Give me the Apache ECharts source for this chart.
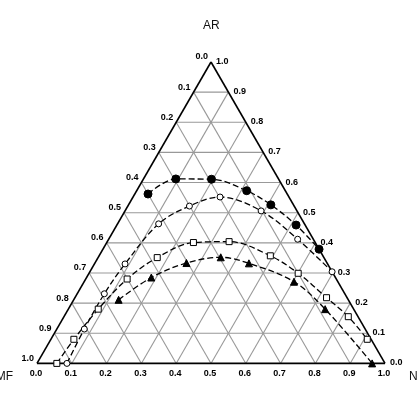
<!DOCTYPE html>
<html><head><meta charset="utf-8">
<script src="https://cdn.jsdelivr.net/npm/echarts@6/dist/echarts.min.js"></script>
<style>html,body{margin:0;padding:0;background:#fff}#c{width:418px;height:418px}</style>
</head><body><div id="c"></div>
<script>
// Ternary levels (fractions)
const levels = [0, 0.1, 0.2, 0.3, 0.4, 0.5, 0.6, 0.7, 0.8, 0.9, 1.0];
// Tick labels
const bottomTickLabels = ['0.0','0.1','0.2','0.3','0.4','0.5','0.6','0.7','0.8','0.9','1.0']; // N
const rightTickLabels  = ['0.0','0.1','0.2','0.3','0.4','0.5','0.6','0.7','0.8','0.9','1.0']; // AR
const leftTickLabels   = ['1.0','0.9','0.8','0.7','0.6','0.5','0.4','0.3','0.2','0.1','0.0']; // at AR level
const vertexNames = ['AR', 'MF', 'N'];

// Series data: AR fraction and N fraction (MF = 1 - AR - N)
const filledCircleAR = [0.562, 0.612, 0.611, 0.573, 0.526, 0.459, 0.379];
const filledCircleN  = [0.038, 0.093, 0.196, 0.316, 0.409, 0.515, 0.621];

const openCircleAR = [0.000, 0.114, 0.231, 0.330, 0.463, 0.522, 0.552, 0.506, 0.412, 0.304];
const openCircleN  = [0.086, 0.079, 0.078, 0.088, 0.118, 0.177, 0.250, 0.391, 0.543, 0.696];

const squareAR = [0.000, 0.080, 0.180, 0.280, 0.351, 0.401, 0.404, 0.357, 0.299, 0.218, 0.155, 0.080];
const squareN  = [0.057, 0.066, 0.086, 0.119, 0.170, 0.249, 0.350, 0.492, 0.601, 0.723, 0.817, 0.909];

const triangleAR = [0.211, 0.285, 0.333, 0.352, 0.332, 0.271, 0.180, 0.000];
const triangleN  = [0.129, 0.186, 0.263, 0.352, 0.443, 0.603, 0.738, 0.963];

const H = Math.sqrt(3) / 2;
function toXY(a, n) { return [n + a / 2, a * H]; }
function seg(a1, n1, a2, n2) { const p = toXY(a1, n1), q = toXY(a2, n2); return [p[0], p[1], q[0], q[1]]; }

// grid lines
const gridSegs = [];
levels.slice(1, -1).forEach(t => {
  gridSegs.push(seg(t, 0, t, 1 - t));       // constant AR
  gridSegs.push(seg(0, t, 1 - t, t));       // constant N
  gridSegs.push(seg(0, 1 - t, 1 - t, 0));   // constant MF
});
const outlineSegs = [seg(0, 0, 0, 1), seg(0, 1, 1, 0), seg(1, 0, 0, 0)];

// labels: [x, y, kind, index]
const labelData = [];
levels.forEach((t, i) => {
  const l = toXY(t, 0); labelData.push([l[0], l[1], 0, i]);
  const r = toXY(t, 1 - t); labelData.push([r[0], r[1], 1, i]);
  const b = toXY(0, t); labelData.push([b[0], b[1], 2, i]);
});

function segRender(color, width) {
  return function (params, api) {
    const p = api.coord([api.value(0), api.value(1)]);
    const q = api.coord([api.value(2), api.value(3)]);
    return { type: 'line', shape: { x1: p[0], y1: p[1], x2: q[0], y2: q[1] },
      style: { stroke: color, lineWidth: width } };
  };
}

const FONT = 'bold 9px "Liberation Sans", Arial, sans-serif';
function labelRender(params, api) {
  const p = api.coord([api.value(0), api.value(1)]);
  const kind = api.value(2), i = api.value(3);
  let text, x, y, align, va = 'middle';
  if (kind === 0) { text = leftTickLabels[i]; x = p[0] - 3; y = p[1] - 5; align = 'right'; }
  else if (kind === 1) { text = rightTickLabels[i]; x = p[0] + 5; y = p[1] - 0.5; align = 'left'; }
  else { text = bottomTickLabels[i]; x = p[0] - 1; y = p[1] + 10; align = 'center'; }
  return { type: 'text', x: x, y: y, style: { text: text, fill: '#000', font: FONT, align: align, verticalAlign: va } };
}

function curve(name, ar, n, symbol, size, fill) {
  return {
    name: name, type: 'line', smooth: 0.35, z: 5,
    data: ar.map((a, i) => toXY(a, n[i])),
    symbol: symbol, symbolSize: size, showSymbol: true,
    itemStyle: { color: fill, borderColor: '#000', borderWidth: 1 },
    lineStyle: { color: '#000', width: 1.3, type: [6, 3] },
    animation: false
  };
}

const TITLE_FONT = '12px "Liberation Sans", Arial, sans-serif';
const chart = echarts.init(document.getElementById('c'), null, { renderer: 'canvas' });
chart.setOption({
  animation: false,
  backgroundColor: '#fff',
  grid: { left: 37, top: 62, width: 348, height: 301.4, containLabel: false },
  xAxis: { type: 'value', min: 0, max: 1, show: false },
  yAxis: { type: 'value', min: 0, max: H, show: false },
  graphic: [
    { type: 'text', left: 203, top: 20, style: { text: vertexNames[0], font: TITLE_FONT, fill: '#111' } },
    { type: 'text', right: 405, top: 371, style: { text: vertexNames[1], font: TITLE_FONT, fill: '#111' } },
    { type: 'text', left: 409, top: 371, style: { text: vertexNames[2], font: TITLE_FONT, fill: '#111' } }
  ],
  series: [
    { type: 'custom', renderItem: segRender('#999', 1.1), data: gridSegs, encode: { x: [0, 2], y: [1, 3] }, z: 1, silent: true },
    { type: 'custom', renderItem: segRender('#000', 1.6), data: outlineSegs, encode: { x: [0, 2], y: [1, 3] }, z: 2, silent: true },
    { type: 'custom', renderItem: labelRender, data: labelData, encode: { x: 0, y: 1 }, z: 3, silent: true },
    curve('filled circle', filledCircleAR, filledCircleN, 'circle', 8, '#000'),
    curve('open circle', openCircleAR, openCircleN, 'circle', 6, '#fff'),
    curve('square', squareAR, squareN, 'rect', 6, '#fff'),
    curve('triangle', triangleAR, triangleN, 'triangle', 7, '#000')
  ]
});
</script>
</body></html>
